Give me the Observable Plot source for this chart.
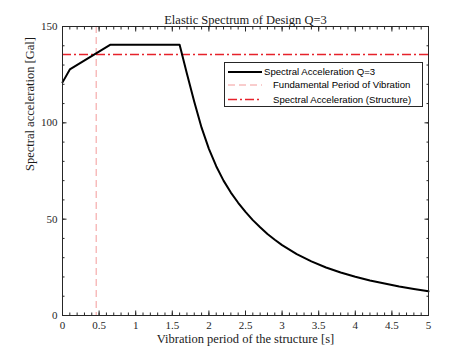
<!DOCTYPE html>
<html><head><meta charset="utf-8">
<script src="https://cdn.jsdelivr.net/npm/d3@7"></script>
<script src="https://cdn.jsdelivr.net/npm/@observablehq/plot@0.6"></script>
<style>
body{margin:0;background:#fff;}
#wrap{position:relative;width:474px;height:355px;}
#legend{position:absolute;left:224px;top:62px;}
</style></head><body><div id="wrap"></div>
<script>
// Data
const period = [0, 0.1, 0.65, 1.6, 1.7, 1.8, 1.9, 2.0, 2.1, 2.2, 2.3, 2.4, 2.5, 2.6, 2.7, 2.8, 2.9, 3.0, 3.2, 3.4, 3.6, 3.8, 4.0, 4.2, 4.4, 4.6, 4.8, 5.0];
const accel  = [121, 127.7, 140.5, 140.5, 125.5, 111, 97.5, 86.5, 77.5, 70, 63.8, 58.5, 53.8, 49.5, 45.8, 42.3, 39.3, 36.5, 31.9, 28.1, 24.9, 22.3, 20.1, 18.2, 16.6, 15.1, 13.8, 12.6];
const fundamentalPeriod = 0.46;
const structureAccel = 135.5;

const xTicks = [0, 0.5, 1, 1.5, 2, 2.5, 3, 3.5, 4, 4.5, 5];
const xMinorTicks = d3.range(0, 5.0001, 0.1);
const yTicks = [0, 50, 100, 150];
const yMinorTicks = d3.range(0, 150.001, 10);

const titleText = "Elastic Spectrum of Design Q=3";
const xLabel = "Vibration period of the structure [s]";
const yLabel = "Spectral acceleration [Gal]";
const legendNames = ["Spectral Acceleration Q=3", "Fundamental Period of Vibration", "Spectral Acceleration (Structure)"];

const curveColor = "#000000";
const periodColor = "#f39a9a";
const structColor = "#e6222b";
const axisColor = "#262626";

const data = period.map((t, i) => ({t, a: accel[i]}));

const tickAxes = [];
for (const anchor of ["bottom", "top"]) {
  tickAxes.push(Plot.axisX({anchor, ticks: xMinorTicks, tickSize: -2.5, tickFormat: () => "", stroke: axisColor}));
  tickAxes.push(Plot.axisX({anchor, ticks: xTicks, tickSize: -4.5, tickFormat: () => "", stroke: axisColor}));
}
for (const anchor of ["left", "right"]) {
  tickAxes.push(Plot.axisY({anchor, ticks: yMinorTicks, tickSize: -2.5, tickFormat: () => "", stroke: axisColor}));
  tickAxes.push(Plot.axisY({anchor, ticks: yTicks, tickSize: -4.5, tickFormat: () => "", stroke: axisColor}));
}

const chart = Plot.plot({
  width: 474, height: 355,
  marginLeft: 62, marginRight: 46, marginTop: 26, marginBottom: 40,
  x: {domain: [0, 5], label: null},
  y: {domain: [0, 150], label: null},
  style: {fontFamily: "'Liberation Serif', serif", fontSize: "11px", background: "white", color: "#262626"},
  marks: [
    Plot.ruleX([fundamentalPeriod], {stroke: periodColor, strokeWidth: 1, strokeDasharray: "7,4"}),
    Plot.ruleY([structureAccel], {stroke: structColor, strokeWidth: 1.5, strokeDasharray: "9,3,2,3"}),
    Plot.line(data, {x: "t", y: "a", stroke: curveColor, strokeWidth: 2, strokeLinejoin: "round"}),
    Plot.frame({stroke: axisColor, strokeWidth: 1}),
    ...tickAxes,
    Plot.axisX({anchor: "bottom", ticks: xTicks, tickSize: 0, tickPadding: 6, tickFormat: d => String(d), fontSize: 11, fill: "#262626"}),
    Plot.axisY({anchor: "left", ticks: yTicks, tickSize: 0, tickPadding: 5, tickFormat: d => String(d), fontSize: 11, fill: "#262626"}),
    Plot.text([titleText], {frameAnchor: "top", dy: -11, text: d => d, fontSize: 12.5, fill: "#1a1a1a"}),
    Plot.text([xLabel], {frameAnchor: "bottom", dy: 27, text: d => d, fontSize: 12.5, fill: "#1a1a1a"}),
    Plot.text([yLabel], {frameAnchor: "left", dx: -33, rotate: -90, text: d => d, fontSize: 12.5, fill: "#1a1a1a"})
  ]
});
const wrap = document.getElementById("wrap");
wrap.appendChild(chart);

// Legend (inside the axes, as in the reference)
const lw = 199, lh = 45;
const legend = d3.select(wrap).append("svg").attr("id", "legend").attr("width", lw).attr("height", lh);
legend.append("rect").attr("x", 0.5).attr("y", 0.5).attr("width", lw - 1).attr("height", lh - 1)
  .attr("fill", "white").attr("stroke", axisColor).attr("stroke-width", 1);
const rowsY = [10, 23, 37.5];
const styles = [
  {stroke: curveColor, width: 2, dash: null, tx: 40},
  {stroke: periodColor, width: 1, dash: "7,4", tx: 49},
  {stroke: structColor, width: 1.5, dash: "9,3,2,3", tx: 49}
];
legendNames.forEach((name, i) => {
  const s = styles[i];
  legend.append("line").attr("x1", 4).attr("x2", 38).attr("y1", rowsY[i]).attr("y2", rowsY[i])
    .attr("stroke", s.stroke).attr("stroke-width", s.width).attr("stroke-dasharray", s.dash);
  legend.append("text").attr("x", s.tx).attr("y", rowsY[i]).attr("dy", "0.35em")
    .attr("font-family", "'Liberation Sans', Arial, sans-serif").attr("font-size", 9.6)
    .attr("fill", "#000").text(name);
});
</script>
</body></html>
